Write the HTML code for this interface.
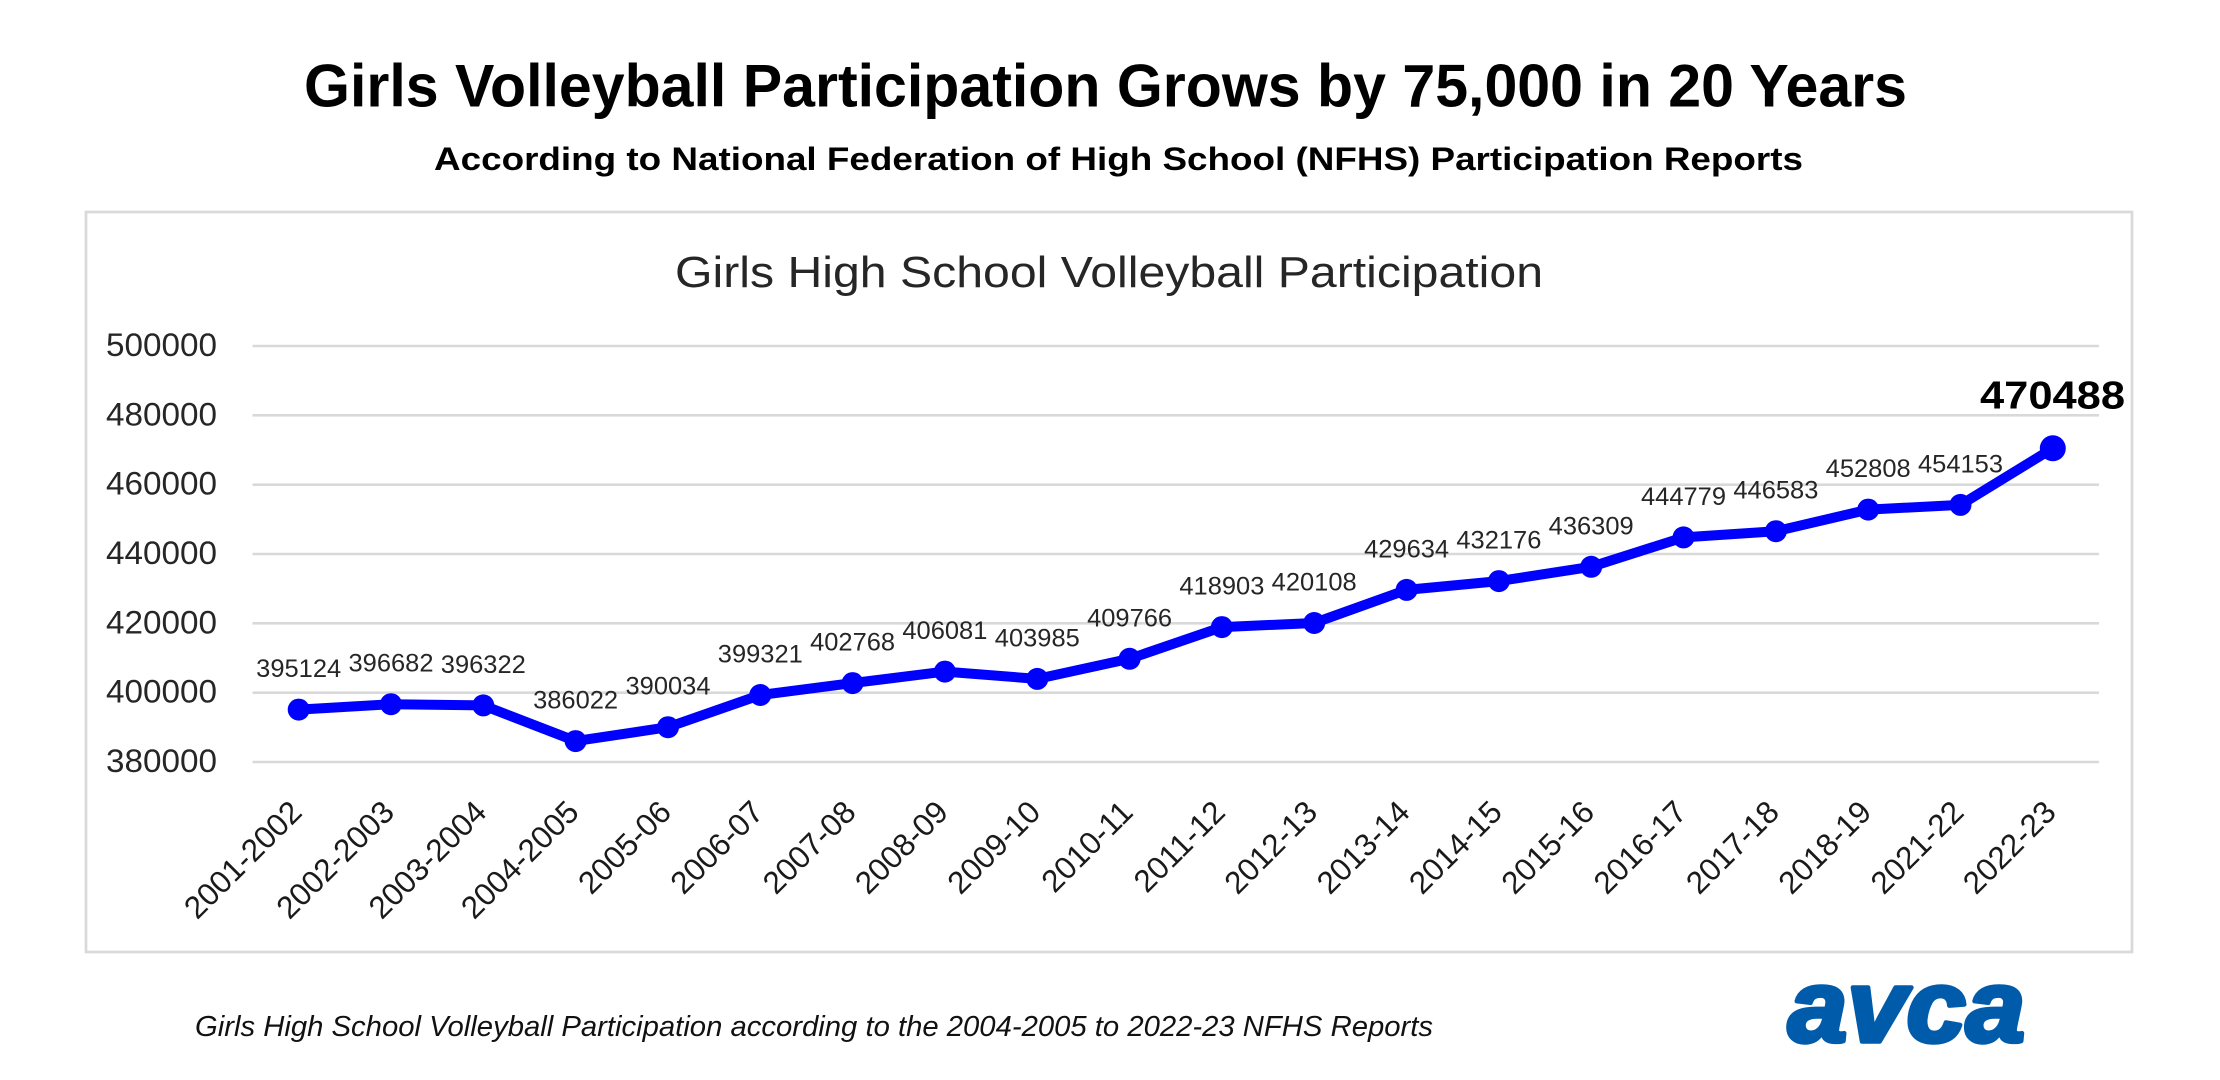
<!DOCTYPE html>
<html>
<head>
<meta charset="utf-8">
<style>
  html, body { margin: 0; padding: 0; background: #ffffff; }
  body { width: 2220px; height: 1080px; overflow: hidden; }
  svg { display: block; }
  text { font-family: "Liberation Sans", Arial, sans-serif; }
</style>
</head>
<body>
<svg width="2220" height="1080" viewBox="0 0 2220 1080" xmlns="http://www.w3.org/2000/svg">
  <rect x="0" y="0" width="2220" height="1080" fill="#ffffff"/>

  <!-- Main titles -->
  <text x="304" y="106.7" font-size="60" font-weight="bold" fill="#000" textLength="1603" lengthAdjust="spacingAndGlyphs">Girls Volleyball Participation Grows by 75,000 in 20 Years</text>
  <text x="434" y="170" font-size="32.5" font-weight="bold" fill="#000" textLength="1369" lengthAdjust="spacingAndGlyphs">According to National Federation of High School (NFHS) Participation Reports</text>

  <!-- Chart box -->
  <rect x="86" y="212" width="2046" height="740" fill="#ffffff" stroke="#d9d9d9" stroke-width="2.7"/>

  <!-- Chart title -->
  <text x="675" y="287" font-size="44" fill="#262626" textLength="868" lengthAdjust="spacingAndGlyphs">Girls High School Volleyball Participation</text>

  <!-- Gridlines -->
  <g stroke="#d9d9d9" stroke-width="2.6">
    <line x1="252.5" y1="346" x2="2099" y2="346"/>
    <line x1="252.5" y1="415.3" x2="2099" y2="415.3"/>
    <line x1="252.5" y1="484.7" x2="2099" y2="484.7"/>
    <line x1="252.5" y1="554" x2="2099" y2="554"/>
    <line x1="252.5" y1="623.3" x2="2099" y2="623.3"/>
    <line x1="252.5" y1="692.7" x2="2099" y2="692.7"/>
    <line x1="252.5" y1="762" x2="2099" y2="762"/>
  </g>

  <!-- Y axis labels -->
  <g font-size="32" fill="#262626">
    <text x="106" y="356" textLength="111" lengthAdjust="spacingAndGlyphs">500000</text>
    <text x="106" y="425.3" textLength="111" lengthAdjust="spacingAndGlyphs">480000</text>
    <text x="106" y="494.7" textLength="111" lengthAdjust="spacingAndGlyphs">460000</text>
    <text x="106" y="564" textLength="111" lengthAdjust="spacingAndGlyphs">440000</text>
    <text x="106" y="633.3" textLength="111" lengthAdjust="spacingAndGlyphs">420000</text>
    <text x="106" y="702.7" textLength="111" lengthAdjust="spacingAndGlyphs">400000</text>
    <text x="106" y="772" textLength="111" lengthAdjust="spacingAndGlyphs">380000</text>
  </g>

  <!-- Series line -->
  <polyline fill="none" stroke="#0000ff" stroke-width="10" stroke-linejoin="round" stroke-linecap="round"
    points="298.7,709.6 391.0,704.2 483.3,705.4 575.6,741.1 668.0,727.2 760.3,695.0 852.6,683.1 944.9,671.6 1037.3,678.9 1129.6,658.8 1221.9,627.1 1314.2,623.0 1406.6,589.9 1498.9,581.1 1591.2,566.8 1683.5,537.4 1775.9,531.2 1868.2,509.6 1960.5,504.9 2052.8,448.3"/>

  <!-- Markers -->
  <g fill="#0000ff">
    <circle cx="298.7" cy="709.6" r="11"/>
    <circle cx="391.0" cy="704.2" r="11"/>
    <circle cx="483.3" cy="705.4" r="11"/>
    <circle cx="575.6" cy="741.1" r="11"/>
    <circle cx="668.0" cy="727.2" r="11"/>
    <circle cx="760.3" cy="695.0" r="11"/>
    <circle cx="852.6" cy="683.1" r="11"/>
    <circle cx="944.9" cy="671.6" r="11"/>
    <circle cx="1037.3" cy="678.9" r="11"/>
    <circle cx="1129.6" cy="658.8" r="11"/>
    <circle cx="1221.9" cy="627.1" r="11"/>
    <circle cx="1314.2" cy="623.0" r="11"/>
    <circle cx="1406.6" cy="589.9" r="11"/>
    <circle cx="1498.9" cy="581.1" r="11"/>
    <circle cx="1591.2" cy="566.8" r="11"/>
    <circle cx="1683.5" cy="537.4" r="11"/>
    <circle cx="1775.9" cy="531.2" r="11"/>
    <circle cx="1868.2" cy="509.6" r="11"/>
    <circle cx="1960.5" cy="504.9" r="11"/>
    <circle cx="2052.8" cy="448.3" r="13"/>
  </g>

  <!-- Data labels -->
  <g font-size="25" fill="#262626">
    <text x="256.2" y="677.1" textLength="85" lengthAdjust="spacingAndGlyphs">395124</text>
    <text x="348.5" y="671.7" textLength="85" lengthAdjust="spacingAndGlyphs">396682</text>
    <text x="440.8" y="672.9" textLength="85" lengthAdjust="spacingAndGlyphs">396322</text>
    <text x="533.1" y="708.6" textLength="85" lengthAdjust="spacingAndGlyphs">386022</text>
    <text x="625.5" y="694.7" textLength="85" lengthAdjust="spacingAndGlyphs">390034</text>
    <text x="717.8" y="662.5" textLength="85" lengthAdjust="spacingAndGlyphs">399321</text>
    <text x="810.1" y="650.6" textLength="85" lengthAdjust="spacingAndGlyphs">402768</text>
    <text x="902.4" y="639.1" textLength="85" lengthAdjust="spacingAndGlyphs">406081</text>
    <text x="994.8" y="646.4" textLength="85" lengthAdjust="spacingAndGlyphs">403985</text>
    <text x="1087.1" y="626.3" textLength="85" lengthAdjust="spacingAndGlyphs">409766</text>
    <text x="1179.4" y="594.6" textLength="85" lengthAdjust="spacingAndGlyphs">418903</text>
    <text x="1271.7" y="590.5" textLength="85" lengthAdjust="spacingAndGlyphs">420108</text>
    <text x="1364.1" y="557.4" textLength="85" lengthAdjust="spacingAndGlyphs">429634</text>
    <text x="1456.4" y="548.6" textLength="85" lengthAdjust="spacingAndGlyphs">432176</text>
    <text x="1548.7" y="534.3" textLength="85" lengthAdjust="spacingAndGlyphs">436309</text>
    <text x="1641.0" y="504.9" textLength="85" lengthAdjust="spacingAndGlyphs">444779</text>
    <text x="1733.4" y="498.7" textLength="85" lengthAdjust="spacingAndGlyphs">446583</text>
    <text x="1825.7" y="477.1" textLength="85" lengthAdjust="spacingAndGlyphs">452808</text>
    <text x="1918.0" y="472.4" textLength="85" lengthAdjust="spacingAndGlyphs">454153</text>
  </g>
  <text x="1980" y="408.3" font-size="39" font-weight="bold" fill="#000" textLength="145" lengthAdjust="spacingAndGlyphs">470488</text>

  <!-- X axis labels -->
  <g font-size="31.5" fill="#1a1a1a" text-anchor="end">
    <text transform="translate(303.7,814) rotate(-45)">2001-2002</text>
    <text transform="translate(396.0,814) rotate(-45)">2002-2003</text>
    <text transform="translate(488.3,814) rotate(-45)">2003-2004</text>
    <text transform="translate(580.6,814) rotate(-45)">2004-2005</text>
    <text transform="translate(673.0,814) rotate(-45)">2005-06</text>
    <text transform="translate(765.3,814) rotate(-45)">2006-07</text>
    <text transform="translate(857.6,814) rotate(-45)">2007-08</text>
    <text transform="translate(949.9,814) rotate(-45)">2008-09</text>
    <text transform="translate(1042.3,814) rotate(-45)">2009-10</text>
    <text transform="translate(1134.6,814) rotate(-45)">2010-11</text>
    <text transform="translate(1226.9,814) rotate(-45)">2011-12</text>
    <text transform="translate(1319.2,814) rotate(-45)">2012-13</text>
    <text transform="translate(1411.6,814) rotate(-45)">2013-14</text>
    <text transform="translate(1503.9,814) rotate(-45)">2014-15</text>
    <text transform="translate(1596.2,814) rotate(-45)">2015-16</text>
    <text transform="translate(1688.5,814) rotate(-45)">2016-17</text>
    <text transform="translate(1780.9,814) rotate(-45)">2017-18</text>
    <text transform="translate(1873.2,814) rotate(-45)">2018-19</text>
    <text transform="translate(1965.5,814) rotate(-45)">2021-22</text>
    <text transform="translate(2057.8,814) rotate(-45)">2022-23</text>
  </g>

  <!-- Footer -->
  <text x="195" y="1036" font-size="29" font-style="italic" fill="#111" textLength="1238" lengthAdjust="spacingAndGlyphs">Girls High School Volleyball Participation according to the 2004-2005 to 2022-23 NFHS Reports</text>

  <!-- AVCA logo -->
  <text x="1788" y="1041.5" font-size="102" font-weight="bold" font-style="italic" fill="#005baa" stroke="#005baa" stroke-width="4.5" stroke-linejoin="round" textLength="237" lengthAdjust="spacingAndGlyphs">avca</text>
</svg>
</body>
</html>
